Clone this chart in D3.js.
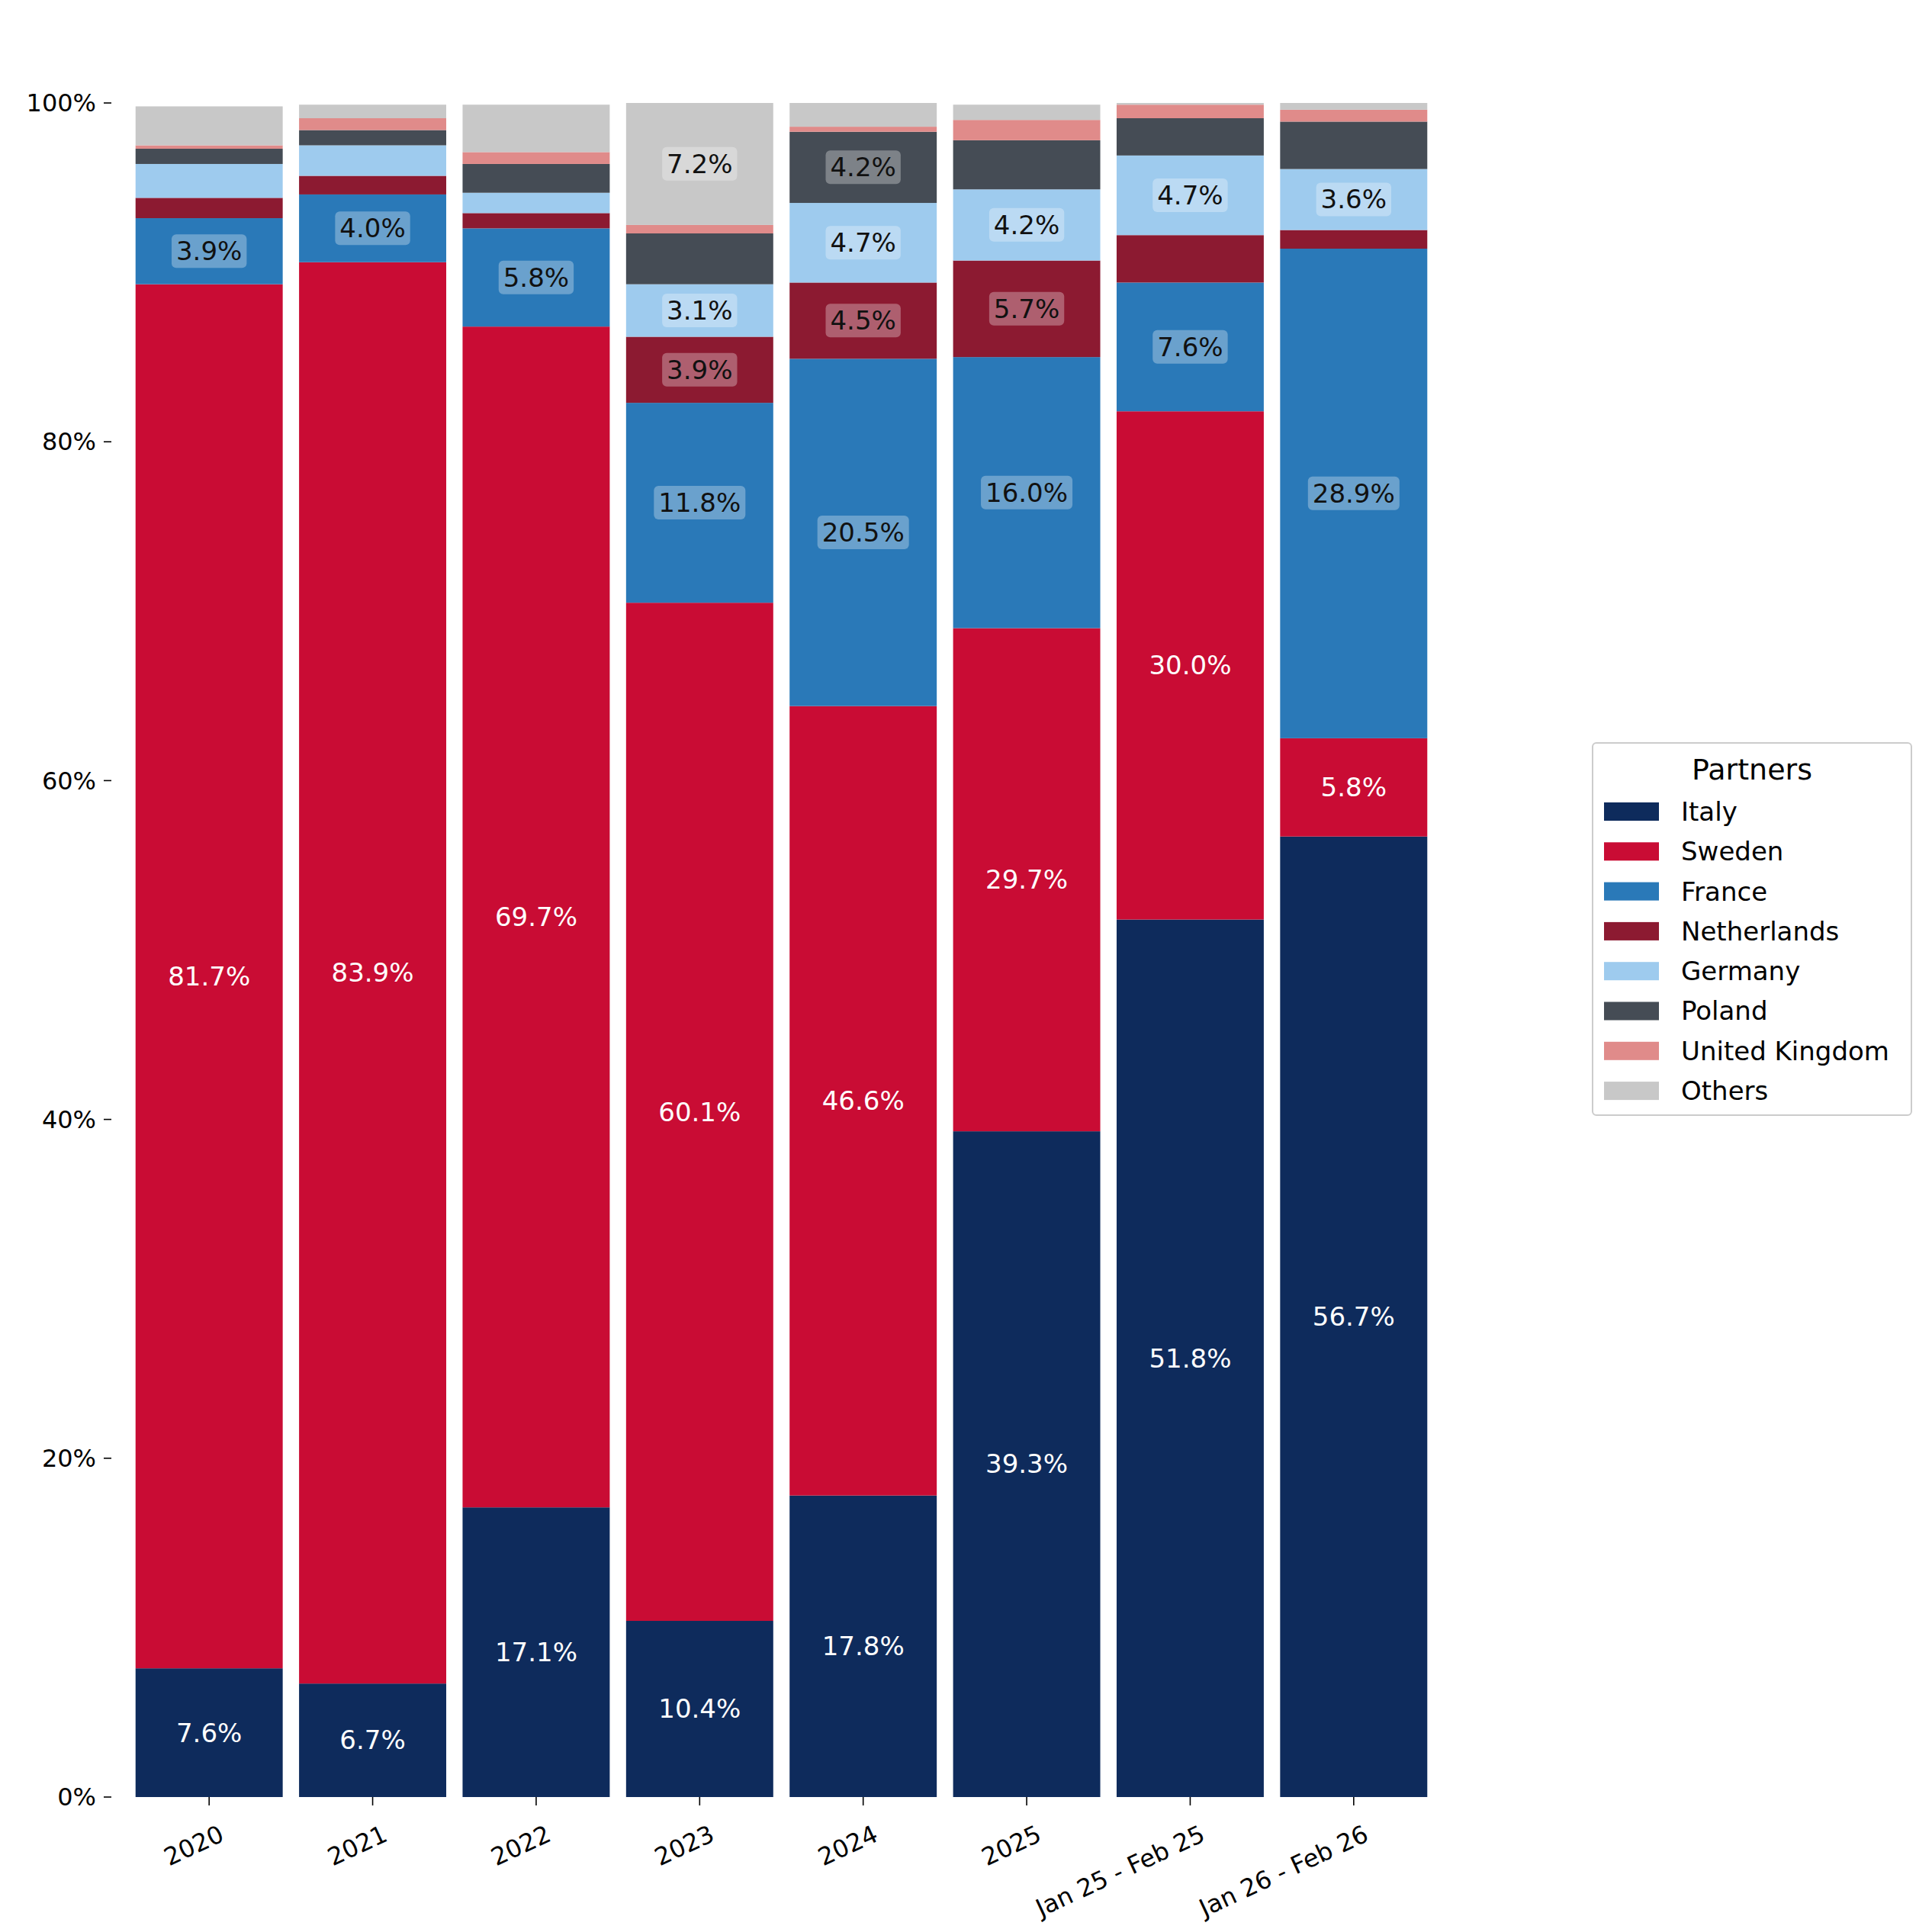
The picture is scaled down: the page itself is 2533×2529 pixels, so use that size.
<!DOCTYPE html>
<html><head><meta charset="utf-8">
<script src="https://cdn.jsdelivr.net/npm/d3@7"></script>
<style>body{margin:0;background:#fff;font-family:"DejaVu Sans",sans-serif}</style>
</head><body><svg id="c" width="2533" height="2529"></svg>
<script>
const categories = ["2020","2021","2022","2023","2024","2025","Jan 25 - Feb 25","Jan 26 - Feb 26"];
const partners = ["Italy","Sweden","France","Netherlands","Germany","Poland","United Kingdom","Others"];
const colors = ["#0e2b5c","#c90c34","#2a79b8","#8c1a31","#9ecbee","#454c55","#e08b8a","#c8c8c8"];
const italy       = [7.6, 6.7, 17.1, 10.4, 17.8, 39.3, 51.8, 56.7];
const sweden      = [81.7, 83.9, 69.7, 60.1, 46.6, 29.7, 30.0, 5.8];
const france      = [3.9, 4.0, 5.8, 11.8, 20.5, 16.0, 7.6, 28.9];
const netherlands = [1.2, 1.1, 0.9, 3.9, 4.5, 5.7, 2.8, 1.1];
const germany     = [2.0, 1.8, 1.2, 3.1, 4.7, 4.2, 4.7, 3.6];
const poland      = [0.9, 0.9, 1.7, 3.0, 4.2, 2.9, 2.2, 2.8];
const uk          = [0.2, 0.7, 0.7, 0.5, 0.3, 1.2, 0.8, 0.7];
const others      = [2.3, 0.8, 2.8, 7.2, 1.4, 0.9, 0.1, 0.4];
const yTicks = [0,20,40,60,80,100];

const series = [italy,sweden,france,netherlands,germany,poland,uk,others];
const svg = d3.select("#c");
const x = d3.scaleBand().domain(categories).range([167,1882]).paddingInner(0.1).paddingOuter(0.05);
const y = d3.scaleLinear().domain([0,100]).range([2356,135]);

const rows = categories.map((c,i)=>{const o={cat:c}; partners.forEach((p,j)=>o[p]=series[j][i]); return o;});
const stack = d3.stack().keys(partners)(rows);

const g = svg.append("g");
stack.forEach((layer,j)=>{
  g.selectAll(null).data(layer).enter().append("rect")
    .attr("x",d=>x(d.data.cat)).attr("width",x.bandwidth())
    .attr("y",d=>y(d[1])).attr("height",d=>y(d[0])-y(d[1]))
    .attr("fill",colors[j]);
});
// labels
stack.forEach((layer,j)=>{
  layer.forEach(d=>{
    const v = d[1]-d[0];
    if (v < 3.05) return;
    const cx = x(d.data.cat)+x.bandwidth()/2, cy = (y(d[0])+y(d[1]))/2;
    const txt = v.toFixed(1)+"%";
    if (j<2) {
      g.append("text").attr("x",cx).attr("y",cy).attr("text-anchor","middle").attr("dy","0.35em")
        .attr("font-size",34).attr("fill","#fff").text(txt);
    } else {
      const t = g.append("text").attr("x",cx).attr("y",cy).attr("text-anchor","middle").attr("dy","0.35em")
        .attr("font-size",34).attr("fill","#111").text(txt);
      const b = t.node().getBBox();
      g.insert("rect",()=>t.node()).attr("x",b.x-6).attr("y",b.y-2).attr("width",b.width+12).attr("height",b.height+4)
        .attr("rx",6).attr("fill","#fff").attr("fill-opacity",0.3);
    }
  });
});
// y axis
const ya = svg.append("g");
yTicks.forEach(t=>{
  ya.append("line").attr("x1",136).attr("x2",146).attr("y1",y(t)).attr("y2",y(t)).attr("stroke","#000").attr("stroke-width",1.6);
  ya.append("text").attr("x",126).attr("y",y(t)).attr("dy","0.35em").attr("text-anchor","end").attr("font-size",32).text(t+"%");
});
// x axis
categories.forEach(c=>{
  const cx = x(c)+x.bandwidth()/2;
  svg.append("line").attr("x1",cx).attr("x2",cx).attr("y1",2356).attr("y2",2367).attr("stroke","#000").attr("stroke-width",1.6);
  svg.append("text").attr("transform",`translate(${cx+12},${2392}) rotate(-25)`).attr("text-anchor","end")
    .attr("dy","0.7em").attr("font-size",32).text(c);
});
// legend
const lg = svg.append("g");
lg.append("rect").attr("x",2088).attr("y",974).attr("width",418).attr("height",488).attr("rx",5)
  .attr("fill","#fff").attr("stroke","#ccc").attr("stroke-width",2);
lg.append("text").attr("x",2297).attr("y",1009).attr("dy","0.35em").attr("text-anchor","middle").attr("font-size",38).text("Partners");
partners.forEach((p,i)=>{
  const yy = 1064 + i*52.3;
  lg.append("rect").attr("x",2103).attr("y",yy-12).attr("width",72).attr("height",24).attr("fill",colors[i]);
  lg.append("text").attr("x",2204).attr("y",yy).attr("dy","0.35em").attr("font-size",34).text(p);
});
</script></body></html>
